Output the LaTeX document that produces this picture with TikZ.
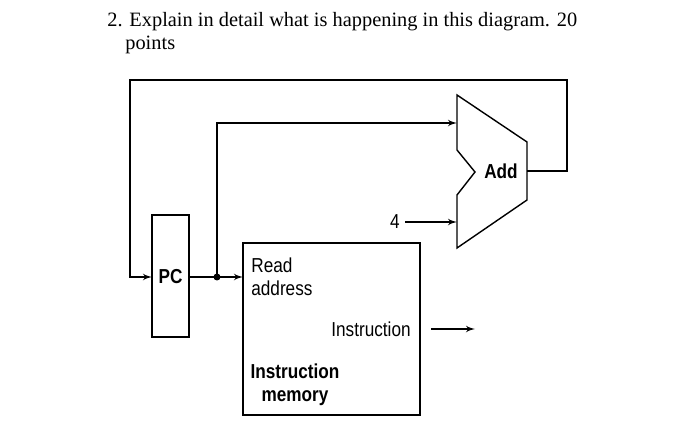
\documentclass[tikz,border=0pt]{standalone}
\usepackage{fontspec}
\setmainfont{Liberation Serif}
\newfontfamily\dsans[FakeStretch=0.85]{Liberation Sans}
\usetikzlibrary{arrows}
\tikzset{
  box/.style = {draw=black, thick},
  wire/.style = {thick},
  arr/.style = {thick, ->, >=latex'},
  lbl/.style = {font=\dsans\fontsize{11.5}{13}\selectfont, align=left, inner sep=0pt},
  blbl/.style = {lbl, font=\dsans\bfseries\fontsize{11.5}{13}\selectfont},
  title/.style = {font=\fontsize{11.6}{13}\selectfont, anchor=west, inner sep=0pt}
}
\begin{document}
\begin{tikzpicture}[x=0.02cm,y=-0.02cm]
\useasboundingbox (0,0) rectangle (700,421);
% title
\node[title] (t1) at (107,22) {2. Explain in detail what is happening in this diagram. 20};
\node[title] (t2) at (125,45) {points};
% PC register
\node[box, minimum width=37*0.02cm, minimum height=122*0.02cm, inner sep=0pt] (pc) at (170.5,276) {};
\node[blbl] (pcl) at (170.5,277) {PC};
% instruction memory
\node[box, minimum width=177*0.02cm, minimum height=172*0.02cm, inner sep=0pt] (im) at (331.5,329) {};
\node[lbl, anchor=west] (ra) at (251,277) {Read\\address};
\node[lbl, anchor=east] (ins) at (411,329) {Instruction};
\node[blbl, align=center] (iml) at (295,385) {Instruction\\memory};
% adder
\draw[box] (457,95) -- (527,142) -- (527,200) -- (457,248) -- (457,195) -- (475,172) -- (457,150) -- cycle;
\coordinate (addin1) at (457,123);
\coordinate (addin2) at (457,222);
\coordinate (addout) at (527,171);
\node[blbl] (addl) at (501,171) {Add};
\node[lbl] (four) at (395,222) {4};
% wires
\coordinate (dot) at (217,277);
\coordinate (pcin) at (152,277);
\coordinate (pcout) at (189,277);
\coordinate (ramin) at (243,277);
\fill (dot) circle (3.5);
\draw[wire] (pcout) -- (dot);
\draw[arr] (dot) -- (ramin);
\draw[arr] (dot) |- (addin1);
\draw[arr] (addout) -- (567,171) |- (130,80) |- (pcin);
\draw[arr] (four.east) ++(5,0) -- (addin2);
\coordinate (insout) at (475,329);
\draw[arr] (431,329) -- (insout);
\end{tikzpicture}
\end{document}
